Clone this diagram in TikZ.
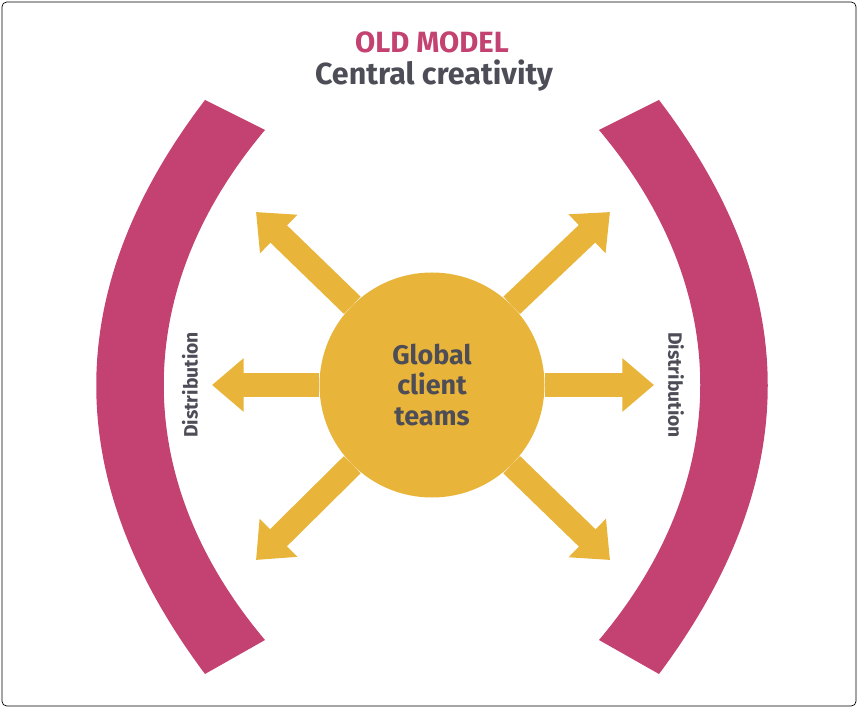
\documentclass[tikz,border=0pt]{standalone}
\usepackage{fontspec}
\setmainfont{Fira Sans}
\usetikzlibrary{arrows.meta,positioning}
\definecolor{oldpink}{RGB}{196,66,113}
\definecolor{teamgold}{RGB}{232,180,58}
\definecolor{titlegray}{RGB}{77,77,87}
\tikzset{
  band/.style={fill=oldpink,draw=none},
  spread/.style={draw=teamgold,line width=0.72cm,-{Triangle[length=0.95cm,width=1.55cm]}},
  bandtext/.style={text=titlegray,font=\bfseries\fontsize{16.5}{18}\selectfont}
}
\begin{document}
\begin{tikzpicture}[x=0.03cm,y=-0.03cm]
  \useasboundingbox (0,0) rectangle (858,708);
  \draw[rounded corners=4pt,line width=0.6pt] (2,2) rectangle (856,706);

  % title
  \node[text=oldpink,font=\bfseries\fontsize{25}{28}\selectfont] (old) at (432,42) {OLD MODEL};
  \node[text=titlegray,font=\bfseries\fontsize{26}{30}\selectfont] (central) at (434,76) {Central creativity};

  % bands
  \path[band] (205,100) .. controls (60,290) and (60,480) .. (205,674)
    -- (265,640) .. controls (130,480) and (130,290) .. (265,130) -- cycle;
  \path[band] (659,100) .. controls (804,290) and (804,480) .. (659,674)
    -- (599,640) .. controls (734,480) and (734,290) .. (599,130) -- cycle;
  \node[bandtext,rotate=90] (distl) at (190,385) {Distribution};
  \node[bandtext,rotate=-90] (distr) at (676,385) {Distribution};

  % hub and arrows
  \node[circle,fill=teamgold,minimum size=6.75cm,inner sep=0pt,align=center,
        text=titlegray,font=\bfseries\fontsize{23}{26}\selectfont] (hub) at (432,385)
        {Global\\client\\teams};
  \coordinate (tw) at (212,385);
  \coordinate (te) at (654,385);
  \coordinate (tnw) at (256,212);
  \coordinate (tne) at (610,212);
  \coordinate (tsw) at (256,560);
  \coordinate (tse) at (610,560);
  \foreach \ang/\tip in {180/tw,0/te,135/tnw,45/tne,225/tsw,315/tse}
    \draw[spread] (hub.\ang) -- (\tip);
\end{tikzpicture}
\end{document}
